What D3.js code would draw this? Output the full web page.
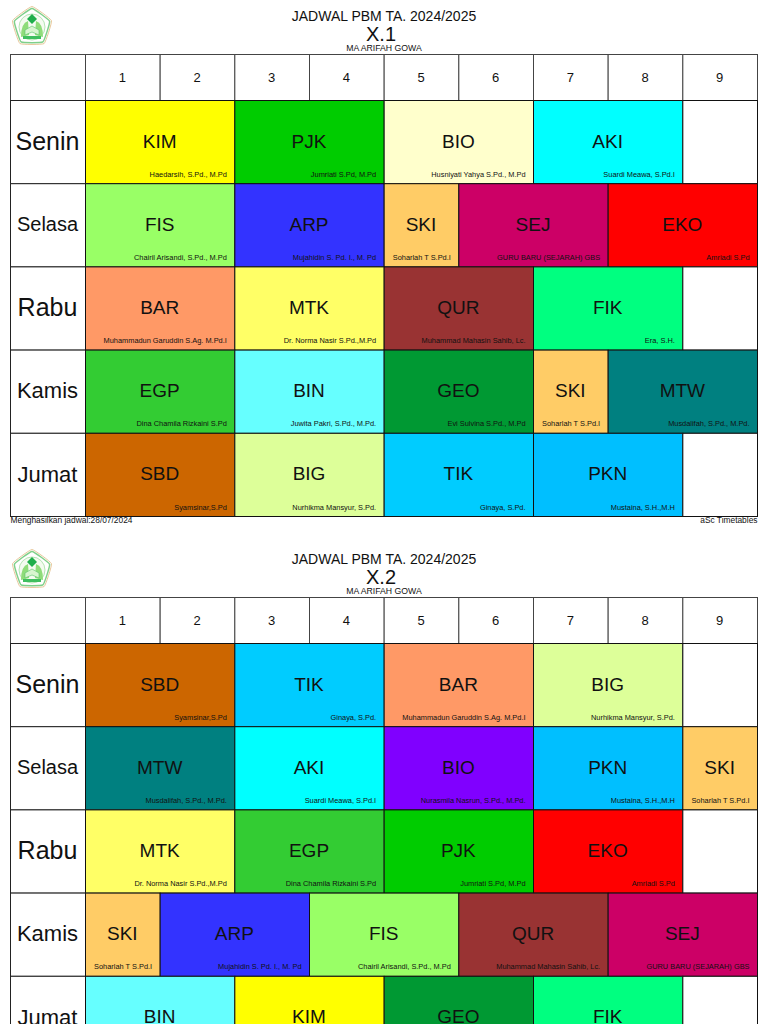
<!DOCTYPE html>
<html lang="en">
  <head>
    <meta charset="UTF-8" />
    <title>Jadwal PBM TA. 2024/2025</title>
    <script src="https://d3js.org/d3.v7.min.js"></script>
    <style>
      body {
        margin: 0;
        background: #fff;
        overflow: hidden;
      }
      svg {
        display: block;
      }
      text {
        font-family: 'Liberation Sans', Arial, sans-serif;
        fill: #111;
      }
    </style>
  </head>
  <body>
    <div id="chart"></div>
    <script>
      const periods = [1, 2, 3, 4, 5, 6, 7, 8, 9];
      const days = ['Senin', 'Selasa', 'Rabu', 'Kamis', 'Jumat'];
      const dayFontSizes = [25, 20, 25, 22, 22];

      // [subject, number of periods], null subject = free period
      const lessonsX1 = [
        [['KIM', 2], ['PJK', 2], ['BIO', 2], ['AKI', 2], [null, 1]],
        [['FIS', 2], ['ARP', 2], ['SKI', 1], ['SEJ', 2], ['EKO', 2]],
        [['BAR', 2], ['MTK', 2], ['QUR', 2], ['FIK', 2], [null, 1]],
        [['EGP', 2], ['BIN', 2], ['GEO', 2], ['SKI', 1], ['MTW', 2]],
        [['SBD', 2], ['BIG', 2], ['TIK', 2], ['PKN', 2], [null, 1]],
      ];
      const lessonsX2 = [
        [['SBD', 2], ['TIK', 2], ['BAR', 2], ['BIG', 2], [null, 1]],
        [['MTW', 2], ['AKI', 2], ['BIO', 2], ['PKN', 2], ['SKI', 1]],
        [['MTK', 2], ['EGP', 2], ['PJK', 2], ['EKO', 2], [null, 1]],
        [['SKI', 1], ['ARP', 2], ['FIS', 2], ['QUR', 2], ['SEJ', 2]],
        [['BIN', 2], ['KIM', 2], ['GEO', 2], ['FIK', 2], [null, 1]],
      ];

      const teachers = {
        KIM: 'Haedarsih, S.Pd., M.Pd',
        PJK: 'Jumriati S.Pd, M.Pd',
        BIO: 'Husniyati Yahya S.Pd., M.Pd',
        AKI: 'Suardi Meawa, S.Pd.I',
        FIS: 'Chairil Arisandi, S.Pd., M.Pd',
        ARP: 'Mujahidin S. Pd. I., M. Pd',
        SKI: 'Soharlah T S.Pd.I',
        SEJ: 'GURU BARU (SEJARAH) GBS',
        EKO: 'Amriadi S.Pd',
        BAR: 'Muhammadun Garuddin S.Ag. M.Pd.I',
        MTK: 'Dr. Norma Nasir S.Pd.,M.Pd',
        QUR: 'Muhammad Mahasin Sahib, Lc.',
        FIK: 'Era, S.H.',
        EGP: 'Dina Chamila Rizkaini S.Pd',
        BIN: 'Juwita Pakri, S.Pd., M.Pd.',
        GEO: 'Evi Sulvina S.Pd., M.Pd',
        MTW: 'Musdalifah, S.Pd., M.Pd.',
        SBD: 'Syamsinar,S.Pd',
        BIG: 'Nurhikma Mansyur, S.Pd.',
        TIK: 'Ginaya, S.Pd.',
        PKN: 'Mustaina, S.H.,M.H',
      };
      const teachersX2 = { ...teachers, BIO: 'Nurasmila Nasrun, S.Pd., M.Pd.' };

      const colorTeachers = Object.values(teachers).concat(teachersX2.BIO);
      const colorRange = [
        '#ffff00', '#00cc00', '#ffffcc', '#00ffff', '#99ff66', '#3333ff', '#ffcc66',
        '#cc0066', '#ff0000', '#ff9966', '#ffff66', '#993333', '#00ff80', '#33cc33',
        '#66ffff', '#009933', '#008080', '#cc6600', '#ddff99', '#00ccff', '#00bfff',
        '#8000ff',
      ];
      const color = d3.scaleOrdinal().domain(colorTeachers).range(colorRange);

      const w = 768,
        h = 1024;
      const svg = d3
        .select('#chart')
        .append('svg')
        .attr('width', w)
        .attr('height', h);

      function drawLogo(g) {
        const logo = g.append('g').attr('transform', 'translate(32,-27)');
        const pentagon = d3.lineRadial().curve(d3.curveCardinalClosed.tension(0.7));
        const shape = (r) => d3.range(5).map((i) => [(i * 2 * Math.PI) / 5, r]);
        logo.append('path').attr('d', pentagon(shape(20.5))).attr('fill', '#fff').attr('stroke', '#e8c79a').attr('stroke-width', 1);
        logo.append('path').attr('d', pentagon(shape(18.5))).attr('fill', '#fff').attr('stroke', '#7fd08a').attr('stroke-width', 1.5);
        logo.append('circle').attr('r', 13).attr('fill', '#f4fbf0').attr('stroke', '#b5e6b5').attr('stroke-width', 1);
        logo.append('path').attr('d', 'M-11,10 Q-11,-4 -4,-6 L-3,8 Z M11,10 Q11,-4 4,-6 L3,8 Z').attr('fill', '#8fdc7a');
        logo.append('path').attr('d', 'M0,-13 L5,-8 L0,-3 L-5,-8 Z').attr('fill', '#1fae4b');
        logo.append('path').attr('d', 'M-7,3 L0,-1 L7,3 L7,8 L0,5 L-7,8 Z').attr('fill', '#d8f5cf').attr('stroke', '#58c46a').attr('stroke-width', 0.6);
        logo.append('rect').attr('x', -9).attr('y', 9).attr('width', 18).attr('height', 3).attr('fill', '#3fbf5f');
      }

      function drawTable(top, classLabel, lessons, teacherNames, showFooter) {
        const g = svg.append('g').attr('transform', `translate(0,${top})`);
        const x = d3.scaleLinear().domain([0, periods.length]).range([85.5, 757.5]);
        const y = d3.scaleBand().domain(days).range([46.5, 462.5]);

        drawLogo(g);

        g.append('text').attr('x', 384).attr('y', -33).attr('text-anchor', 'middle').attr('font-size', 14).text('JADWAL PBM TA. 2024/2025');
        g.append('text').attr('x', 381).attr('y', -13).attr('text-anchor', 'middle').attr('font-size', 20).text(classLabel);
        g.append('text').attr('x', 384).attr('y', -3).attr('text-anchor', 'middle').attr('font-size', 8.7).text('MA ARIFAH GOWA');

        // header row
        g.append('rect').attr('x', 10.5).attr('y', 0.5).attr('width', 75).attr('height', 46).attr('fill', '#fff').attr('stroke', '#444');
        g.selectAll('.period')
          .data(periods)
          .join('rect')
          .attr('class', 'period')
          .attr('x', (d, i) => x(i))
          .attr('y', 0.5)
          .attr('width', x(1) - x(0))
          .attr('height', 46)
          .attr('fill', '#fff')
          .attr('stroke', '#444');
        g.selectAll('.periodLabel')
          .data(periods)
          .join('text')
          .attr('class', 'periodLabel')
          .attr('x', (d, i) => x(i + 0.5) - 0.5)
          .attr('y', 28)
          .attr('text-anchor', 'middle')
          .attr('font-size', 13)
          .attr('fill', '#222')
          .text((d) => d);

        // lesson rows
        days.forEach((day, r) => {
          g.append('rect')
            .attr('x', 10.5)
            .attr('y', y(day))
            .attr('width', 75)
            .attr('height', y.bandwidth())
            .attr('fill', '#fff')
            .attr('stroke', '#222');
          g.append('text')
            .attr('x', 47.5)
            .attr('y', y(day) + y.bandwidth() / 2 + dayFontSizes[r] * 0.3)
            .attr('text-anchor', 'middle')
            .attr('font-size', dayFontSizes[r])
            .text(day);

          let start = 0;
          lessons[r].forEach(([subject, span]) => {
            const x0 = x(start),
              x1 = x(start + span);
            const teacher = subject ? teacherNames[subject] : null;
            g.append('rect')
              .attr('x', x0)
              .attr('y', y(day))
              .attr('width', x1 - x0)
              .attr('height', y.bandwidth())
              .attr('fill', subject ? color(teacher) : '#fff')
              .attr('stroke', '#111');
            if (subject) {
              g.append('text')
                .attr('x', (x0 + x1) / 2 - 0.5)
                .attr('y', y(day) + y.bandwidth() / 2 + 5.5)
                .attr('text-anchor', 'middle')
                .attr('font-size', 19)
                .text(subject);
              g.append('text')
                .attr('x', x1 - 8)
                .attr('y', y(day) + y.bandwidth() - 7)
                .attr('text-anchor', 'end')
                .attr('font-size', 7.4)
                .text(teacher);
            }
            start += span;
          });
        });

        if (showFooter) {
          g.append('text').attr('x', 10.5).attr('y', 469).attr('font-size', 8.4).text('Menghasilkan jadwal:28/07/2024');
          g.append('text').attr('x', 757.5).attr('y', 469).attr('text-anchor', 'end').attr('font-size', 8.4).text('aSc Timetables');
        }
      }

      drawTable(54, 'X.1', lessonsX1, teachers, true);
      drawTable(597, 'X.2', lessonsX2, teachersX2, false);
    </script>
  </body>
</html>
